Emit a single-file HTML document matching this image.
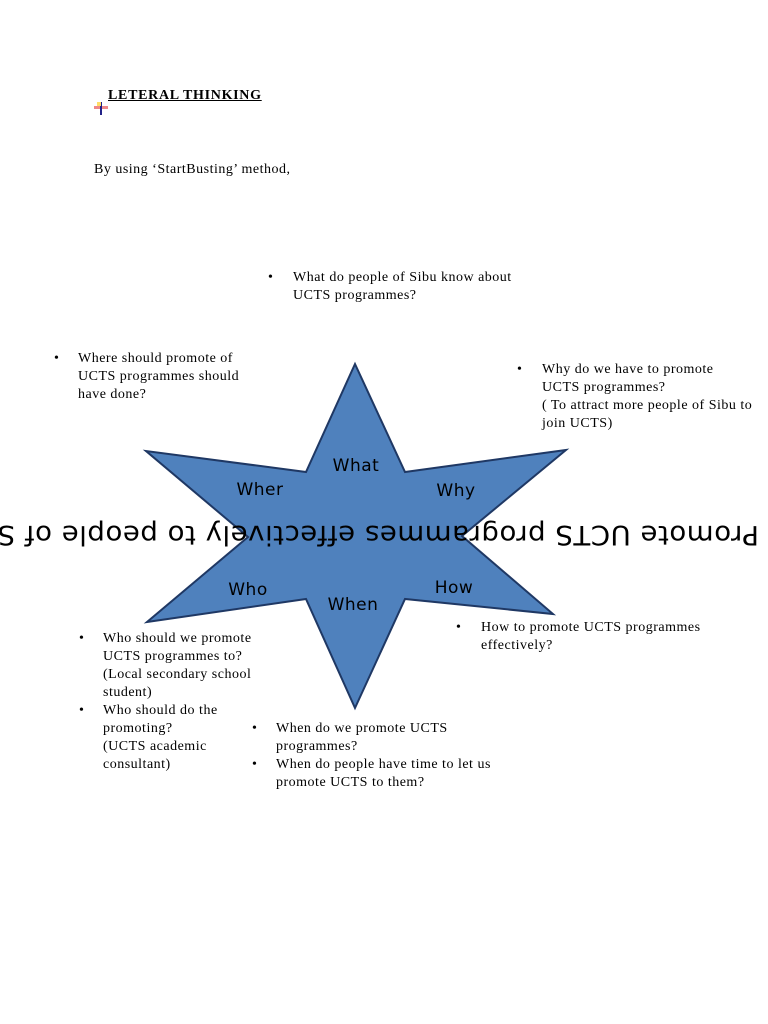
<!DOCTYPE html>
<html><head><meta charset="utf-8"><style>
body{margin:0;width:768px;height:1024px;background:#fff;position:relative;overflow:hidden;font-family:"Liberation Serif",serif;font-size:14px;letter-spacing:0.5px;color:#000}
.t{position:absolute;line-height:18px;white-space:nowrap}
</style></head><body>
<div class="t" style="left:108px;top:87px;font-weight:bold;text-decoration:underline;letter-spacing:0.7px">LETERAL THINKING</div>
<div style="position:absolute;left:94px;top:102px;width:14px;height:12px">
<div style="position:absolute;left:0;top:4px;width:14px;height:3px;background:#e88"></div>
<div style="position:absolute;left:6px;top:0;width:2px;height:13px;background:#228"></div>
<div style="position:absolute;left:3px;top:0;width:4px;height:4px;background:#fd6"></div></div>
<div class="t" style="left:94px;top:161px">By using ‘StartBusting’ method,</div>

<div class="t" style="left:268px;top:269px">•</div>
<div class="t" style="left:293px;top:269px">What do people of Sibu know about<br>UCTS programmes?</div>

<div class="t" style="left:54px;top:350px">•</div>
<div class="t" style="left:78px;top:350px">Where should promote of<br>UCTS programmes should<br>have done?</div>

<div class="t" style="left:517px;top:361px">•</div>
<div class="t" style="left:542px;top:361px">Why do we have to promote<br>UCTS programmes?<br>( To attract more people of Sibu to<br>join UCTS)</div>

<svg style="position:absolute;left:0;top:0" width="768" height="1024">
<polygon points="355,364 405,472 566,450 462,536 553,614 405,599 355,708 306,599 147,622 248,537 146,451 306,472" fill="#4f81bd" stroke="#1f3864" stroke-width="2" stroke-linejoin="miter"/>
<g font-family="DejaVu Sans,sans-serif" font-size="17" fill="#000">
<text x="356" y="471" text-anchor="middle">What</text>
<text x="260" y="495" text-anchor="middle">Wher</text>
<text x="456" y="496" text-anchor="middle">Why</text>
<text x="248" y="595" text-anchor="middle">Who</text>
<text x="353" y="610" text-anchor="middle">When</text>
<text x="454" y="593" text-anchor="middle">How</text>
</g>
<text transform="translate(378,536) rotate(180)" x="0" y="10" text-anchor="middle" font-family="DejaVu Sans,sans-serif" font-size="27" fill="#000" textLength="762" lengthAdjust="spacingAndGlyphs">Promote UCTS programmes effectively to people of S</text>
</svg>

<div class="t" style="left:456px;top:619px">•</div>
<div class="t" style="left:481px;top:619px">How to promote UCTS programmes<br>effectively?</div>

<div class="t" style="left:79px;top:630px">•</div>
<div class="t" style="left:103px;top:630px">Who should we promote<br>UCTS programmes to?<br>(Local secondary school<br>student)</div>
<div class="t" style="left:79px;top:702px">•</div>
<div class="t" style="left:103px;top:702px">Who should do the<br>promoting?<br>(UCTS academic<br>consultant)</div>

<div class="t" style="left:252px;top:720px">•</div>
<div class="t" style="left:276px;top:720px">When do we promote UCTS<br>programmes?</div>
<div class="t" style="left:252px;top:756px">•</div>
<div class="t" style="left:276px;top:756px">When do people have time to let us<br>promote UCTS to them?</div>
</body></html>
